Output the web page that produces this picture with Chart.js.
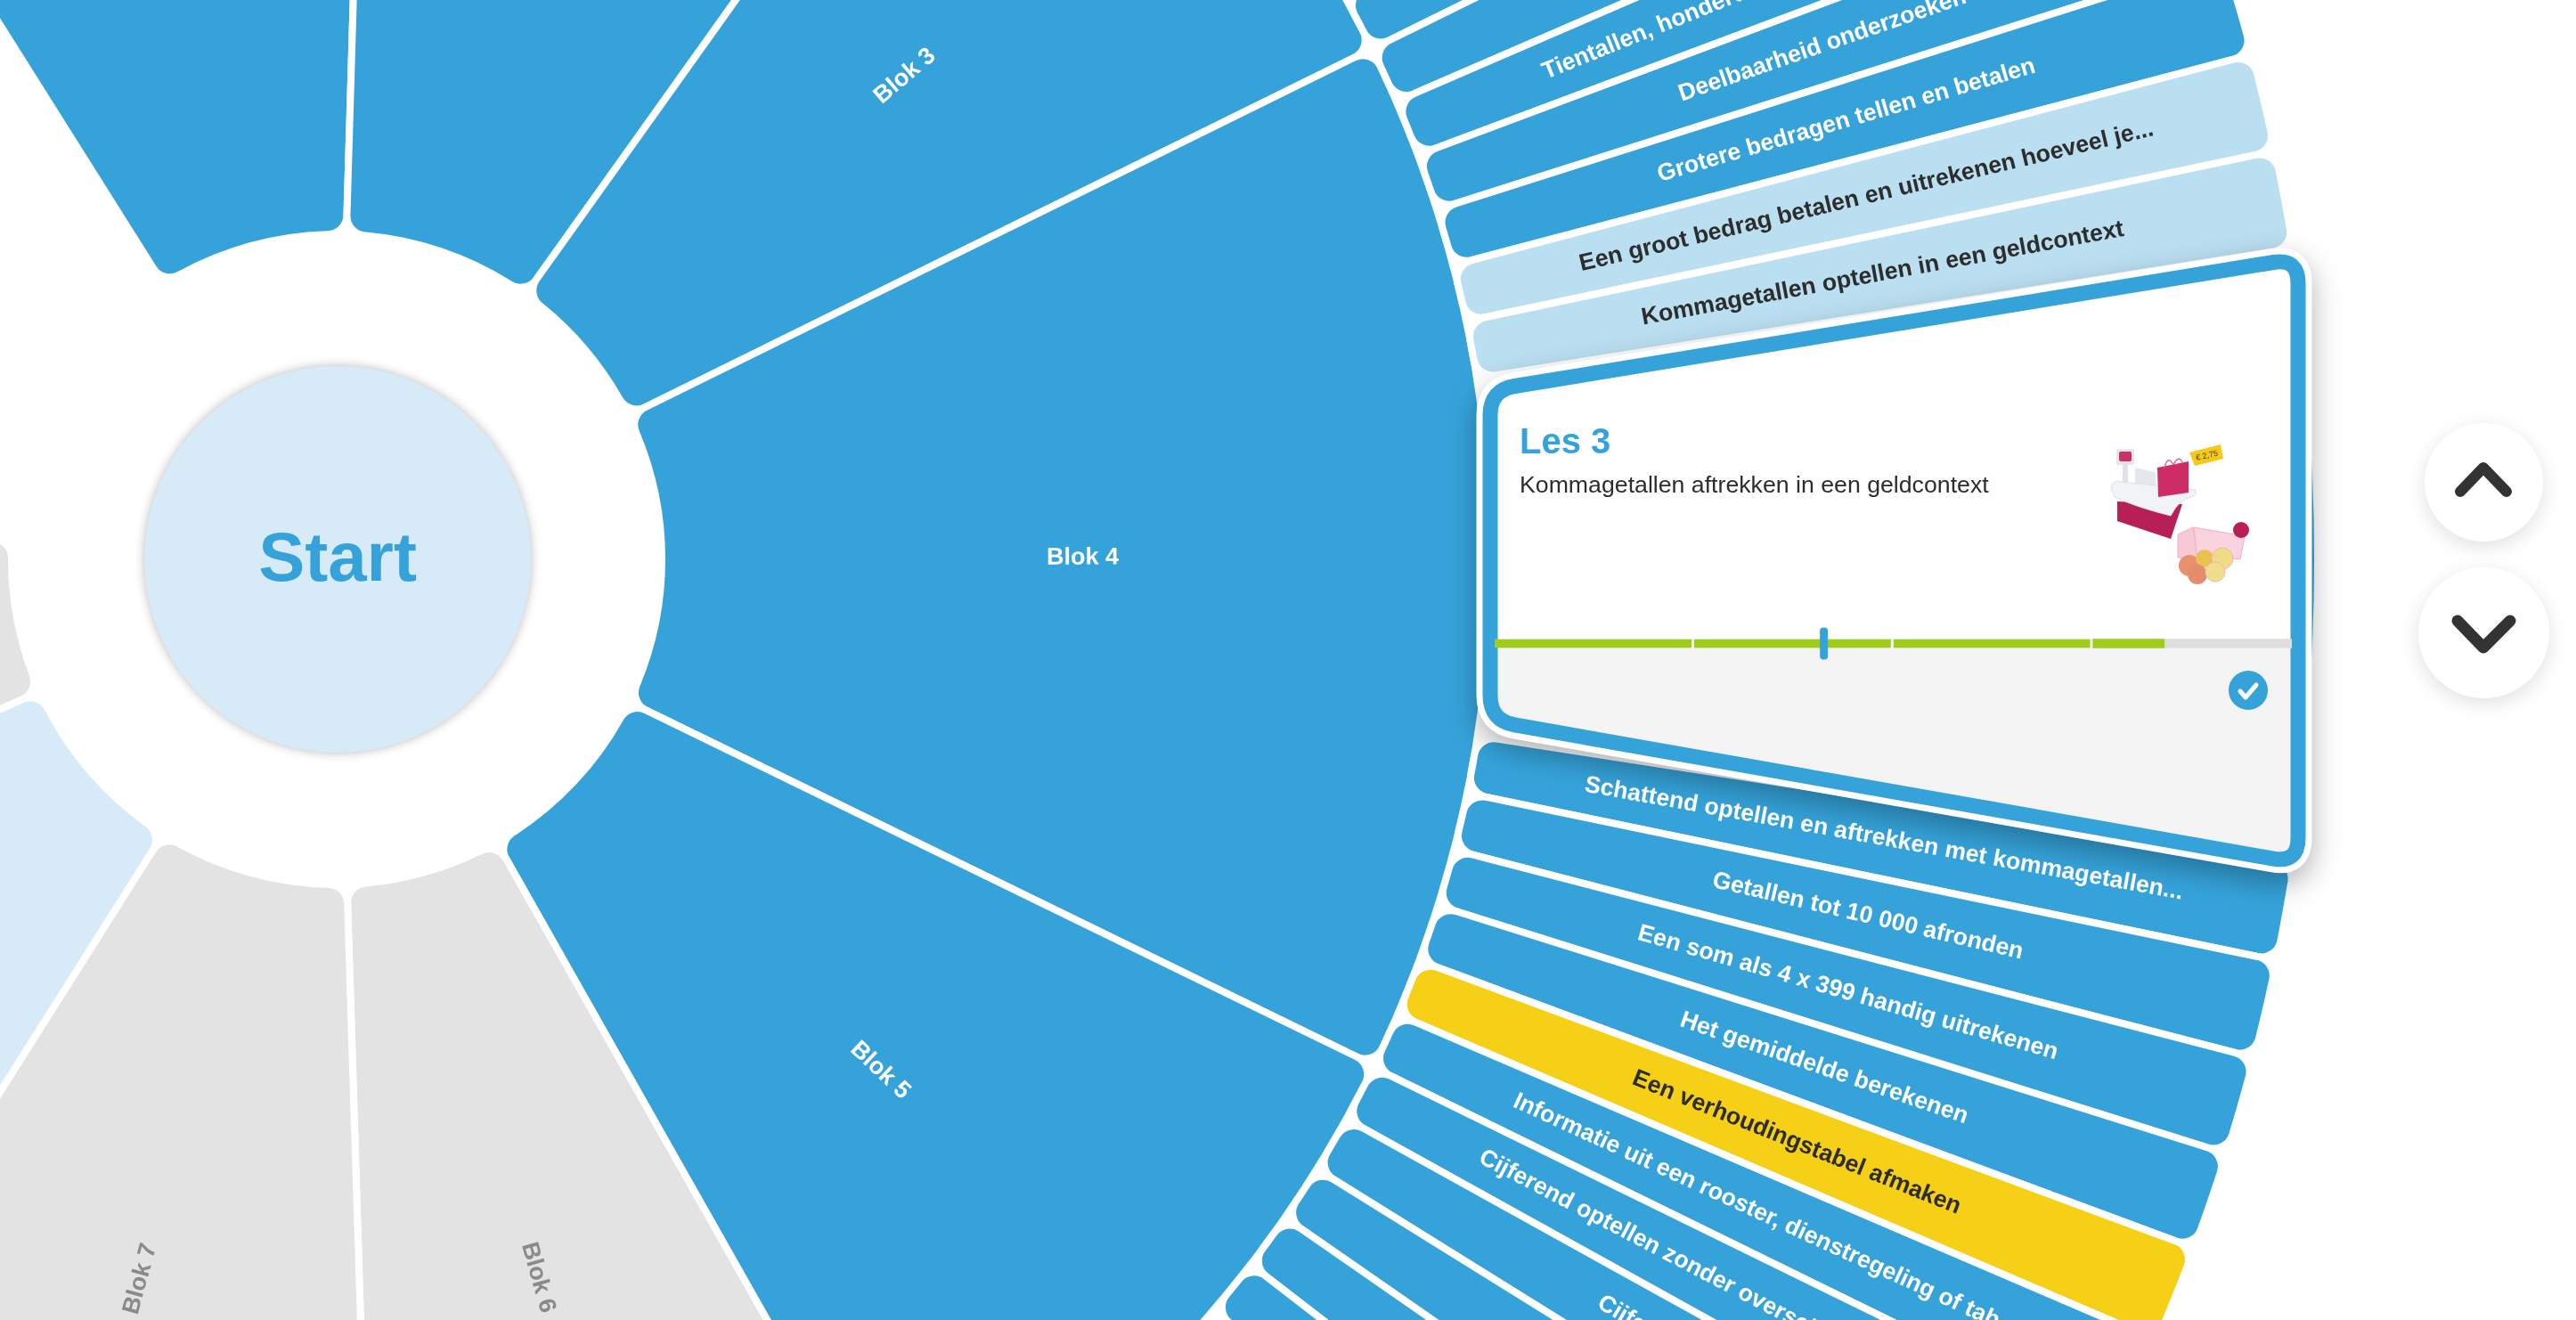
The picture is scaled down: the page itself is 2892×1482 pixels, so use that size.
<!DOCTYPE html>
<html lang="nl">
<head>
<meta charset="utf-8">
<title>Blokken en lessen</title>
<script src="https://cdn.jsdelivr.net/npm/chart.js@4/dist/chart.umd.min.js"></script>
<style>
    html, body { margin: 0; padding: 0; width: 2892px; height: 1482px; overflow: hidden; background: #fff; font-family: "Liberation Sans", Arial, sans-serif; }
    #stage { position: absolute; left: 0; top: 0; width: 2892px; height: 1482px; overflow: hidden; }
    #wheel { position: absolute; left: -1850px; top: -1600px; }
    #start { position: absolute; left: 162px; top: 411px; width: 434px; height: 434px; border-radius: 50%; background: #d6ebf7; box-shadow: 0 0 12px rgba(0,0,0,.28);
             color: #35a3da; font-weight: bold; font-size: 78px; line-height: 428px; text-align: center; }
    #card { position: absolute; left: 0; top: 0; }
    #cardTitle { position: absolute; left: 1706px; top: 472px; font-size: 40px; line-height: 46px; font-weight: bold; color: #35a3da; }
    #cardText { position: absolute; left: 1706px; top: 528px; font-size: 26.7px; line-height: 32px; color: #2d2d2d; }
    #progress { position: absolute; left: 1678px; top: 695px; }
    .arrow { position: absolute; border-radius: 50%; background: #fff; box-shadow: 0 6px 22px rgba(0,0,0,.12); }
    #up { left: 2722px; top: 475px; width: 133px; height: 133px; }
    #down { left: 2715px; top: 637px; width: 147px; height: 147px; }
    .arrow svg { position: absolute; left: 0; top: 0; }
</style>
</head>
<body>
<div id="stage">
    <canvas id="wheel" width="4456" height="4456"></canvas>
    <div id="start">Start</div>

    <svg id="card" width="2892" height="1482" xmlns="http://www.w3.org/2000/svg">
        <defs>
            <linearGradient id="cardFill" gradientUnits="userSpaceOnUse" x1="0" y1="0" x2="0" y2="1482">
                <stop offset="0.4845" stop-color="#ffffff"/>
                <stop offset="0.4845" stop-color="#f4f4f4"/>
            </linearGradient>
            <path id="cardShape" d="M1700.6,433.5 L2552.4,294.5 Q2580,290 2580,318 L2580,941 Q2580,969 2552.4,964.1 L1700.6,813.9 Q1673,809 1673,781 L1673,466 Q1673,438 1700.6,433.5 Z"/>
        </defs>
        <use href="#cardShape" fill="#fff" stroke="#fff" stroke-width="31" stroke-linejoin="round" style="filter: drop-shadow(0 12px 16px rgba(0,0,0,.3))"/>
        <use href="#cardShape" fill="url(#cardFill)" stroke="#35a3da" stroke-width="17" stroke-linejoin="round"/>

        <!-- kassa -->
        <g>
            <polygon points="2377,563 2450,566 2437,605 2377,585" fill="#b81f56"/>
            <rect x="2376" y="504" width="20" height="18" rx="2" fill="#e4e6e8"/>
            <rect x="2379" y="507" width="14" height="11" rx="2" fill="#cf2f68"/>
            <rect x="2383" y="520" width="6" height="24" fill="#dfe3e6"/>
            <polygon points="2397,525 2420,530 2420,552 2397,546" fill="#e4e8ec"/>
            <path d="M2370,548 Q2371,538 2382,541 L2465,550 Q2467,556 2460,558 Q2447,560 2437,579 Q2400,570 2374,558 Z" fill="#f1f3f5" stroke="#dfe2e5"/>
            <polygon points="2422,525 2457,518 2457,553 2423,558" fill="#cd2c64"/>
            <path d="M2430,525 Q2434,510 2440,522 M2440,522 Q2446,510 2450,519" fill="none" stroke="#d66d92" stroke-width="1.5"/>
            <polygon points="2458,508 2493,499 2496,515 2464,523" fill="#f5c918"/>
            <text x="2466" y="517" font-size="9" fill="#4a3a10" transform="rotate(-13 2466 517)">€ 2,75</text>
            <polygon points="2445,600 2462,592 2470,628 2445,626" fill="#f7c9d6" stroke="#eeb0c4"/>
            <polygon points="2463,592 2520,602 2515,628 2466,622" fill="#f9d3dd" stroke="#eeb0c4"/>
            <circle cx="2516" cy="595" r="9" fill="#b81f56"/>
            <circle cx="2458" cy="635" r="12" fill="#e8906f"/>
            <circle cx="2475" cy="627" r="10" fill="#e8c24c"/>
            <circle cx="2495" cy="627" r="12" fill="#f1dc86" stroke="#efb3c0"/>
            <circle cx="2467" cy="645" r="11" fill="#e58c6d"/>
            <circle cx="2487" cy="642" r="11" fill="#f1de8c" stroke="#efb3c0"/>
        </g>

        <circle cx="2524" cy="775" r="22" fill="#35a3da"/>
        <polyline points="2515,776 2521,783 2533,769" fill="none" stroke="#fff" stroke-width="5" stroke-linecap="round" stroke-linejoin="round"/>
    </svg>

    <div id="cardTitle">Les 3</div>
    <div id="cardText">Kommagetallen aftrekken in een geldcontext</div>
    <canvas id="progress" width="895" height="55"></canvas>

    <div id="up" class="arrow"><svg width="133" height="133"><polyline points="40,77 66,50 92,77" fill="none" stroke="#333" stroke-width="12" stroke-linecap="round" stroke-linejoin="round"/></svg></div>
    <div id="down" class="arrow"><svg width="147" height="147"><polyline points="44,60 73,90 103,60" fill="none" stroke="#333" stroke-width="13" stroke-linecap="round" stroke-linejoin="round"/></svg></div>
</div>

<script>
    // blokken: binnenste ring
    var blokLabels = ["Blok 1", "Blok 2", "Blok 3", "Blok 4", "Blok 5", "Blok 6", "Blok 7", "Blok 8", "Blok 9", ""];
    var blokValues = [33.9, 33.8, 28.25, 52.25, 34.5, 27.7, 34.1, 33.7, 27.5, 54.3];
    var blokStatus = ["done", "done", "done", "done", "done", "todo", "todo", "next", "todo", "none"];

    // lessen: buitenste ring
    var lesLabels = [
        "",
        "",
        "Cijfers en getallen tot 100 000 lezen",
        "Tientallen, honderdtallen en duizendtallen tellen",
        "Deelbaarheid onderzoeken",
        "Grotere bedragen tellen en betalen",
        "Een groot bedrag betalen en uitrekenen hoeveel je...",
        "Kommagetallen optellen in een geldcontext",
        "",
        "",
        "",
        "Schattend optellen en aftrekken met kommagetallen...",
        "Getallen tot 10 000 afronden",
        "Een som als 4 x 399 handig uitrekenen",
        "Het gemiddelde berekenen",
        "Een verhoudingstabel afmaken",
        "Informatie uit een rooster, dienstregeling of tab...",
        "Cijferend optellen zonder overschrijden tot 10 000",
        "Cijferend aftrekken",
        "", "", "", "",
        ""
    ];
    var lesValues = [93.08, 2.87, 2.87, 2.87, 2.87, 2.87, 2.87, 2.87, 4.03, 10, 3.8,
        2.885, 2.885, 2.885, 2.885, 2.885, 2.885, 2.885, 2.885, 2.885, 2.885, 2.885, 2.885, 194.38];
    var lesStatus = ["none", "done", "done", "done", "done", "done", "light", "light", "none", "done", "none",
        "done", "done", "done", "done", "star", "done", "done", "done", "done", "done", "done", "done", "none"];

    // voortgang van de open les
    var progressValues = [25, 25, 25, 9, 16];
    var progressColors = ["#9fce1a", "#9fce1a", "#9fce1a", "#9fce1a", "#dedede"];
    var progressMarker = 41.3;

    var fills = { done: "#35a3da", light: "#badff1", next: "#d6ebf7", todo: "#e3e3e3", star: "#f6d016", none: "rgba(0,0,0,0)" };
    var inks = { done: "#ffffff", light: "#2d2d2d", next: "#2d2d2d", todo: "#8a8a8a", star: "#2d2d2d", none: "#ffffff" };

    function colorsFor(list, map) {
        return list.map(function (s) { return map[s]; });
    }
    function bordersFor(list) {
        return list.map(function (s) { return s === "none" ? 0 : 8; });
    }

    // tekst langs de hoek van elk vak
    var arcLabels = {
        id: "arcLabels",
        afterDatasetsDraw: function (chart) {
            var ctx = chart.ctx;
            chart.data.datasets.forEach(function (ds, i) {
                chart.getDatasetMeta(i).data.forEach(function (arc, j) {
                    var text = ds.names[j];
                    if (!text) return;
                    var c = arc.getCenterPoint();
                    var mid = (arc.startAngle + arc.endAngle) / 2;
                    var angle = Math.cos(mid) < 0 ? mid + Math.PI : mid;
                    ctx.save();
                    ctx.translate(c.x + Math.cos(mid) * ds.labelPush, c.y + Math.sin(mid) * ds.labelPush);
                    ctx.rotate(angle);
                    ctx.font = "bold " + ds.fontSize + "px 'Liberation Sans', Arial, sans-serif";
                    ctx.fillStyle = inks[ds.status[j]];
                    ctx.textAlign = "center";
                    ctx.textBaseline = "middle";
                    ctx.fillText(text, 0, 0);
                    ctx.restore();
                });
            });
        }
    };

    new Chart(document.getElementById("wheel"), {
        type: "doughnut",
        data: {
            datasets: [
                {
                    data: lesValues,
                    names: lesLabels,
                    status: lesStatus,
                    fontSize: 26.7,
                    labelPush: 5,
                    weight: 928,
                    backgroundColor: colorsFor(lesStatus, fills),
                    borderColor: "#ffffff",
                    borderWidth: bordersFor(lesStatus),
                    borderRadius: 22
                },
                {
                    data: blokValues,
                    names: blokLabels,
                    status: blokStatus,
                    fontSize: 27,
                    labelPush: 7,
                    weight: 931,
                    backgroundColor: colorsFor(blokStatus, fills),
                    borderColor: "#ffffff",
                    borderWidth: bordersFor(blokStatus),
                    borderRadius: 22
                }
            ]
        },
        options: {
            responsive: false,
            animation: false,
            devicePixelRatio: 1,
            rotation: -32.2,
            cutout: 365,
            layout: { padding: 0 },
            plugins: { legend: { display: false }, tooltip: { enabled: false } }
        },
        plugins: [arcLabels]
    });

    // blauw streepje op de voortgangsbalk
    var markerPlugin = {
        id: "markerPlugin",
        afterDatasetsDraw: function (chart) {
            var ctx = chart.ctx;
            var x = chart.scales.x.getPixelForValue(progressMarker);
            var mid = chart.height / 2;
            ctx.save();
            ctx.fillStyle = "#35a3da";
            ctx.beginPath();
            ctx.roundRect(x - 4.5, mid - 18, 9, 36, 4);
            ctx.fill();
            ctx.restore();
        }
    };

    new Chart(document.getElementById("progress"), {
        type: "bar",
        data: {
            labels: ["Les 3"],
            datasets: progressValues.map(function (v, i) {
                return {
                    data: [v],
                    backgroundColor: progressColors[i],
                    barThickness: 10,
                    borderColor: "#ffffff",
                    borderWidth: i < 3 ? { right: 3 } : 0,
                    borderSkipped: false
                };
            })
        },
        options: {
            indexAxis: "y",
            responsive: false,
            animation: false,
            devicePixelRatio: 1,
            layout: { padding: 0 },
            scales: {
                x: { display: false, stacked: true, min: 0, max: 100 },
                y: { display: false, stacked: true }
            },
            plugins: { legend: { display: false }, tooltip: { enabled: false } }
        },
        plugins: [markerPlugin]
    });
</script>
</body>
</html>
